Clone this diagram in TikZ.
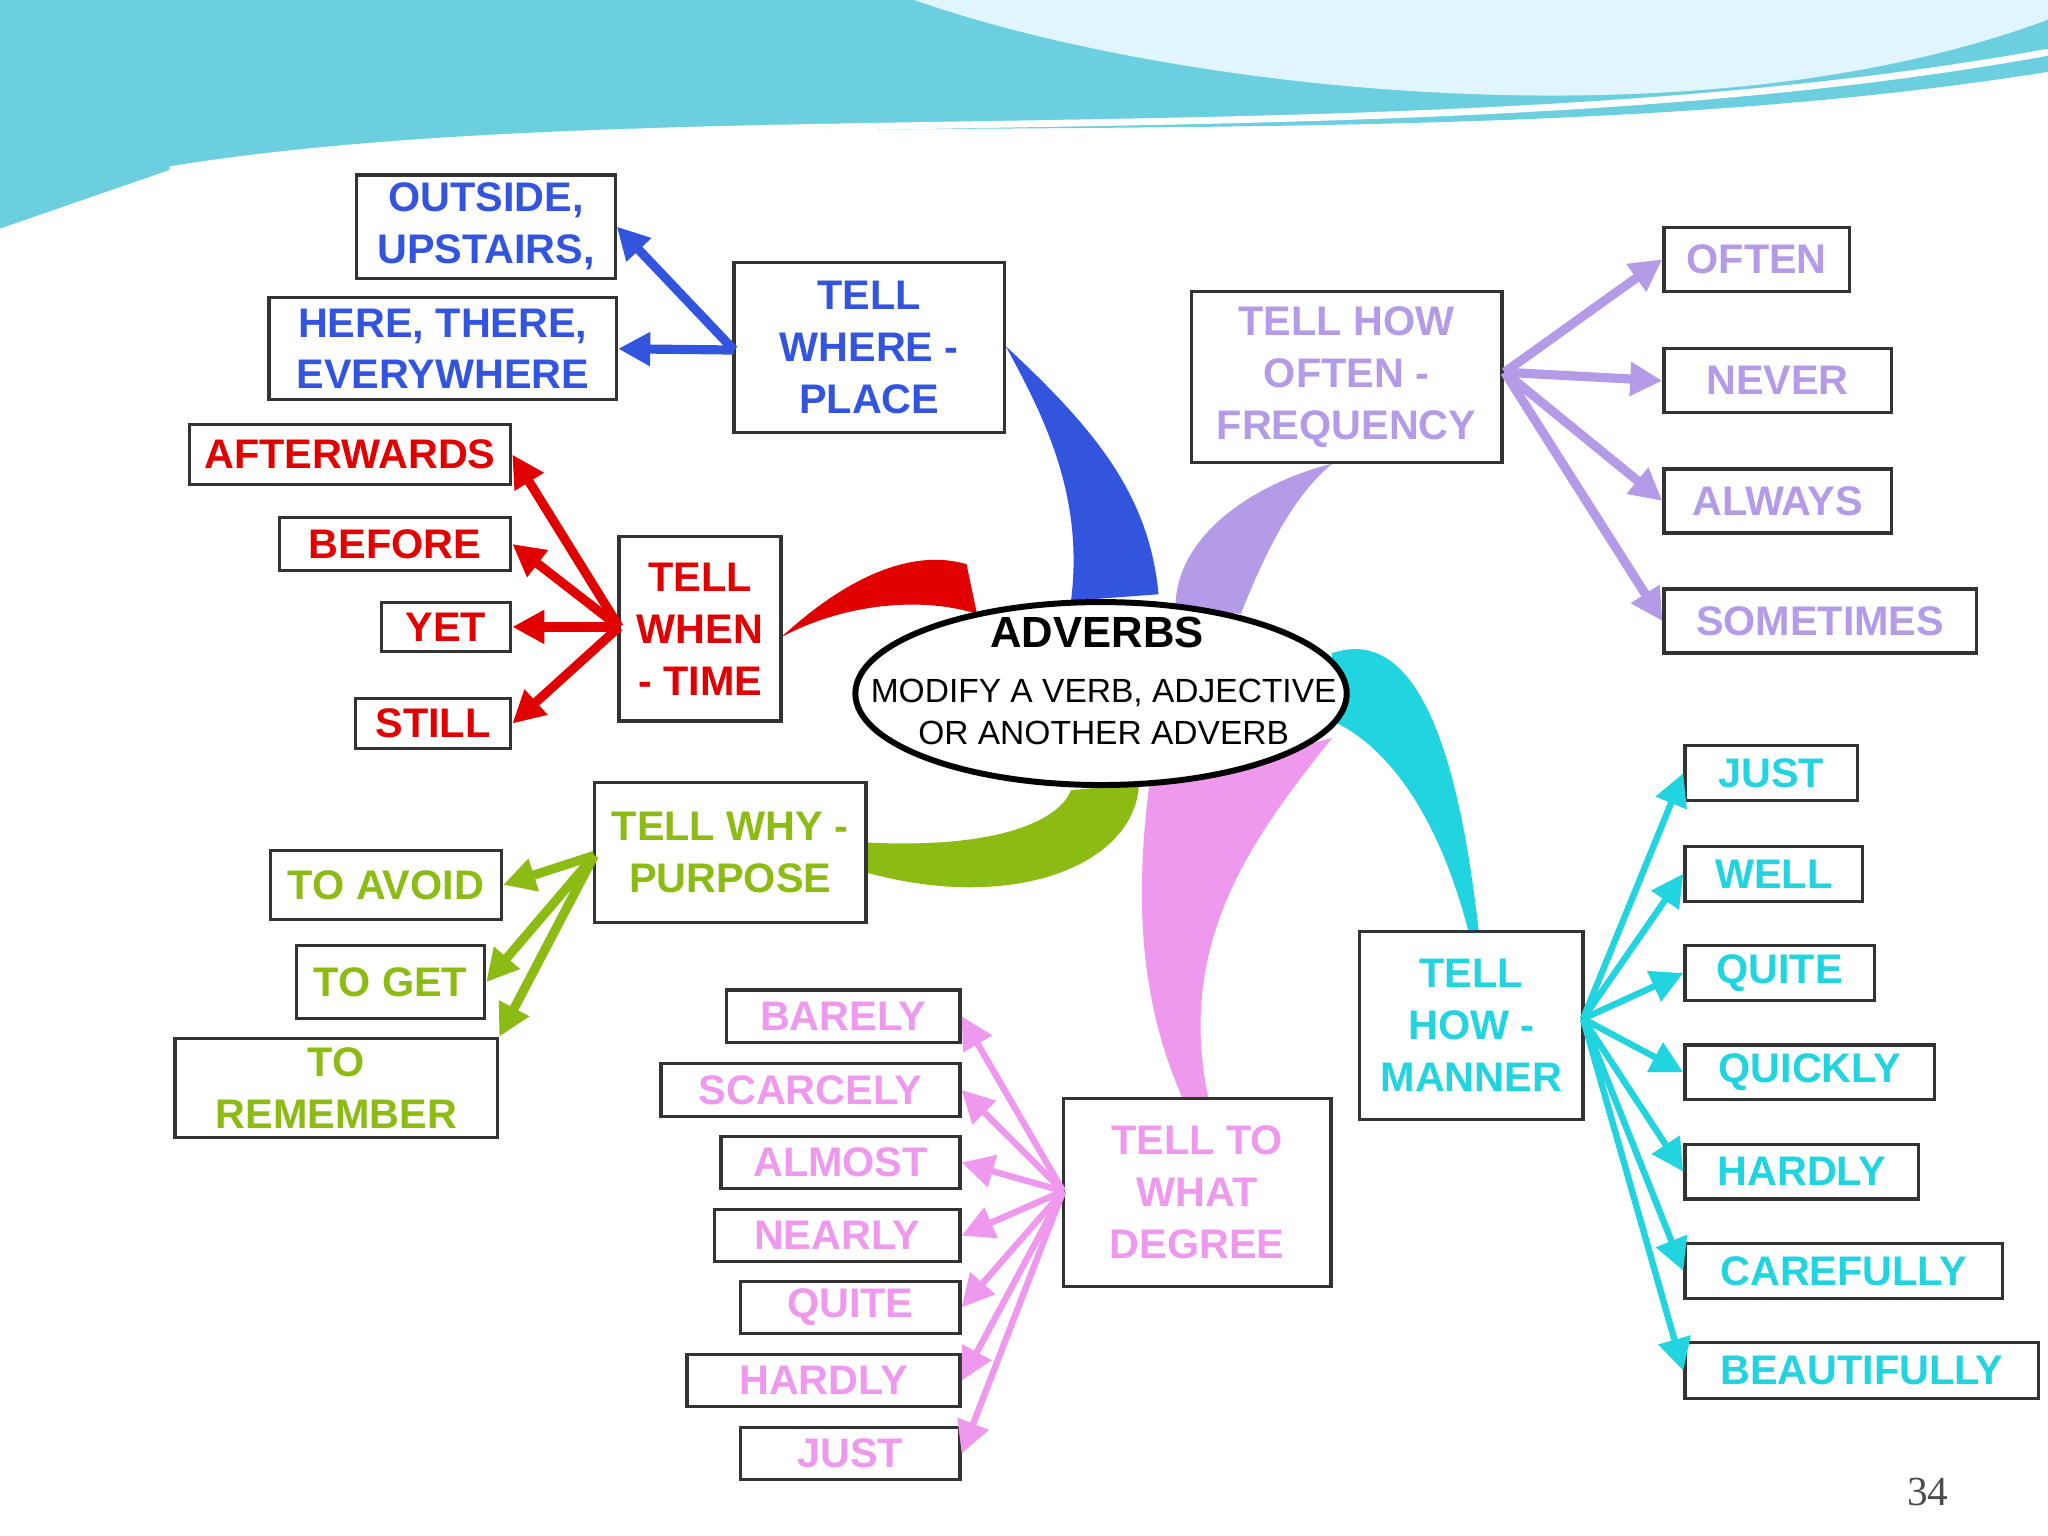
\documentclass[tikz,border=0pt]{standalone}
\usepackage{fontspec}
\setmainfont{Liberation Sans}
\newfontfamily\pgnum{Liberation Serif}
\usetikzlibrary{arrows.meta,shapes.geometric}
\definecolor{cblue}{HTML}{3355DD}
\definecolor{cred}{HTML}{E00000}
\definecolor{cpur}{HTML}{B39BE8}
\definecolor{ccyan}{HTML}{22D3E0}
\definecolor{cgreen}{HTML}{8CBB14}
\definecolor{cpink}{HTML}{EE99EE}
\definecolor{band}{HTML}{6CCFE0}
\newcommand\bx[7]{\node[draw=black!80,line width=0.7pt,inner sep=0pt,align=center,text=#6,font=\fontsize{9}{11.3}\selectfont\bfseries,
  minimum width={(#4-#2)*0.01cm},minimum height={(#5-#3)*0.01cm}] (#1) at ({(#2+#4)/2},{(#3+#5)/2}) {#7};}
\tikzset{arr/.style={line width=2pt,-{Triangle[length=7pt,width=7pt]}}}
\begin{document}
\begin{tikzpicture}[x=0.01cm,y=-0.01cm]
\useasboundingbox (0,0) rectangle (1568,1176);
\fill[white] (0,0) rectangle (1568,1176);
\fill[band] (0,0) -- (1568,0) -- (1568,55) .. controls (1100,130) and (500,70) .. (130,130) -- (0,175) -- cycle;
\fill[cyan!12] (700,0) .. controls (900,70) and (1300,115) .. (1568,15) -- (1568,0) -- cycle;
\draw[white,line width=1.5pt] (130,130) .. controls (500,70) and (1100,125) .. (1568,40);
% swooshes
\fill[cblue] (770,265) .. controls (840,330) and (880,380) .. (887,455) -- (820,460) .. controls (830,380) and (800,320) .. (770,265) -- cycle;
\fill[cred] (598,488) .. controls (650,440) and (700,420) .. (740,432) -- (748,470) .. controls (700,455) and (640,465) .. (598,488) -- cycle;
\fill[cpur] (1020,355) .. controls (960,370) and (900,410) .. (900,465) -- (950,470) .. controls (970,420) and (990,380) .. (1020,355) -- cycle;
\fill[ccyan] (1020,500) .. controls (1080,480) and (1115,560) .. (1132,712) -- (1124,712) .. controls (1100,620) and (1060,570) .. (1020,552) -- cycle;
\fill[cpink] (1020,565) .. controls (960,640) and (900,720) .. (925,840) -- (905,840) .. controls (870,760) and (870,680) .. (880,600) -- cycle;
\fill[cgreen] (663,645) .. controls (760,650) and (810,630) .. (820,605) -- (872,600) .. controls (870,660) and (780,700) .. (663,668) -- cycle;
% center
\node[draw,ellipse,line width=1.3pt,fill=white,minimum width=3.76cm,minimum height=1.4cm,inner sep=0pt] (adv) at (843,531) {};
\node (advt) at (840,484) {\fontsize{9.5}{12}\selectfont\bfseries ADVERBS};
\node[align=center,font=\fontsize{7.3}{9}\selectfont] (advs) at (845,545) {MODIFY A VERB, ADJECTIVE\\OR ANOTHER ADVERB};
% boxes
\bx{out}{273}{134}{471}{213}{cblue}{OUTSIDE,\\UPSTAIRS,}
\bx{here}{206}{228}{472}{306}{cblue}{HERE, THERE,\\EVERYWHERE}
\bx{where}{562}{201}{769}{331}{cblue}{TELL\\WHERE -\\PLACE}
\bx{aft}{145}{325}{391}{371}{cred}{AFTERWARDS}
\bx{bef}{214}{396}{391}{437}{cred}{BEFORE}
\bx{yet}{292}{461}{391}{499}{cred}{YET}
\bx{still}{272}{535}{391}{573}{cred}{STILL}
\bx{when}{474}{411}{598}{552}{cred}{TELL\\WHEN\\- TIME}
\bx{often}{912}{223}{1150}{354}{cpur}{TELL HOW\\OFTEN -\\FREQUENCY}
\bx{o1}{1274}{174}{1416}{223}{cpur}{OFTEN}
\bx{o2}{1274}{267}{1448}{316}{cpur}{NEVER}
\bx{o3}{1274}{359}{1448}{408}{cpur}{ALWAYS}
\bx{o4}{1274}{451}{1513}{500}{cpur}{SOMETIMES}
\bx{why}{455}{599}{663}{706}{cgreen}{TELL WHY -\\PURPOSE}
\bx{g1}{207}{651}{384}{704}{cgreen}{TO AVOID}
\bx{g2}{227}{724}{371}{780}{cgreen}{TO GET}
\bx{g3}{134}{795}{381}{871}{cgreen}{TO\\REMEMBER}
\bx{man}{1041}{713}{1212}{857}{ccyan}{TELL\\HOW -\\MANNER}
\bx{m1}{1290}{571}{1422}{613}{ccyan}{JUST}
\bx{m2}{1290}{648}{1426}{690}{ccyan}{WELL}
\bx{m3}{1290}{724}{1435}{766}{ccyan}{QUITE}
\bx{m4}{1290}{800}{1481}{842}{ccyan}{QUICKLY}
\bx{m5}{1290}{876}{1469}{918}{ccyan}{HARDLY}
\bx{m6}{1290}{952}{1533}{994}{ccyan}{CAREFULLY}
\bx{m7}{1290}{1028}{1561}{1071}{ccyan}{BEAUTIFULLY}
\bx{deg}{814}{841}{1019}{985}{cpink}{TELL TO\\WHAT\\DEGREE}
\bx{d1}{556}{758}{735}{798}{cpink}{BARELY}
\bx{d2}{506}{814}{735}{855}{cpink}{SCARCELY}
\bx{d3}{552}{870}{735}{910}{cpink}{ALMOST}
\bx{d4}{547}{926}{735}{966}{cpink}{NEARLY}
\bx{d5}{567}{981}{735}{1021}{cpink}{QUITE}
\bx{d6}{526}{1037}{735}{1077}{cpink}{HARDLY}
\bx{d7}{567}{1093}{735}{1133}{cpink}{JUST}
% arrows
\coordinate (hb) at (562,268);
\draw[arr,cblue] (hb) -- (out.east);
\draw[arr,cblue] (hb) -- (here.east);
\coordinate (hr) at (474,480);
\foreach \t in {aft,bef,yet,still} \draw[arr,cred] (hr) -- (\t.east);
\coordinate (hp) at (1152,285);
\foreach \t in {o1,o2,o3,o4} \draw[arr,cpur] (hp) -- (\t.west);
\coordinate (hg) at (455,655);
\draw[arr,cgreen] (hg) -- (g1.east);
\draw[arr,cgreen] (hg) -- (g2.east);
\draw[arr,cgreen] (hg) -- (g3.north east);
\coordinate (hc) at (1212,780);
\foreach \t in {m1,m2,m3,m4,m5,m6,m7} \draw[arr,ccyan,line width=1.4pt] (hc) -- (\t.west);
\coordinate (hk) at (814,912);
\foreach \t in {d1,d2,d3,d4,d5,d6,d7} \draw[arr,cpink,line width=1.4pt] (hk) -- (\t.east);
\node[font=\fontsize{9}{11}\selectfont\pgnum,text=black!70] (pg) at (1476,1142) {34};
\end{tikzpicture}
\end{document}
